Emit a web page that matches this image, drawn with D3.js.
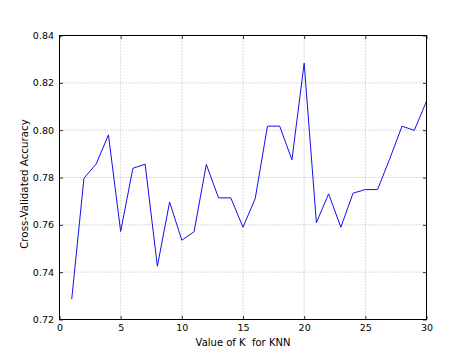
<!DOCTYPE html>
<html><head><meta charset="utf-8">
<script src="https://cdn.jsdelivr.net/npm/d3@7"></script>
<style>body{margin:0;background:#fff}svg{display:block}text{font-family:"DejaVu Sans",sans-serif;}</style>
</head><body>
<svg id="c" width="474" height="355"></svg>
<script>
const kValues = [1,2,3,4,5,6,7,8,9,10,11,12,13,14,15,16,17,18,19,20,21,22,23,24,25,26,27,28,29,30];
const accuracy = [0.7286,0.7797,0.7857,0.7980,0.7572,0.7839,0.7856,0.7425,0.7696,0.7535,
                  0.7571,0.7855,0.7714,0.7714,0.7590,0.7711,0.8017,0.8017,0.7875,0.8283,
                  0.7609,0.7731,0.7590,0.7734,0.7749,0.7749,0.7880,0.8017,0.7999,0.8122];
const xTicks = [0,5,10,15,20,25,30];
const yTicks = [0.72,0.74,0.76,0.78,0.80,0.82,0.84];
const xLabel = "Value of K  for KNN";
const yLabel = "Cross-Validated Accuracy";

const L=59.5, R=426.5, T=35.5, B=319.5;
const svg = d3.select("#c");
const x = d3.scaleLinear().domain([0,30]).range([L,R]);
const y = d3.scaleLinear().domain([0.72,0.84]).range([B,T]);

// grid
const g = svg.append("g");
g.selectAll(".gx").data(xTicks.slice(1,-1)).enter().append("line")
  .attr("x1",d=>x(d)).attr("x2",d=>x(d)).attr("y1",T).attr("y2",B)
  .attr("stroke","#888").attr("stroke-width",0.6).attr("stroke-dasharray","1,2");
g.selectAll(".gy").data(yTicks.slice(1,-1)).enter().append("line")
  .attr("y1",d=>y(d)).attr("y2",d=>y(d)).attr("x1",L).attr("x2",R)
  .attr("stroke","#888").attr("stroke-width",0.6).attr("stroke-dasharray","1,2");

// line
svg.append("path").datum(kValues.map((k,i)=>[k,accuracy[i]]))
  .attr("fill","none").attr("stroke","#1010ee").attr("stroke-width",1)
  .attr("d", d3.line().x(d=>x(d[0])).y(d=>y(d[1])));

// axes (ticks inward)
const fmtY = d3.format(".2f");
const ax = svg.append("g").attr("transform",`translate(0,${B})`)
  .call(d3.axisBottom(x).tickValues(xTicks).tickSizeInner(-3.5).tickSizeOuter(0).tickPadding(5));
const axT = svg.append("g").attr("transform",`translate(0,${T})`)
  .call(d3.axisTop(x).tickValues(xTicks).tickSizeInner(-3.5).tickSizeOuter(0).tickFormat(""));
const ay = svg.append("g").attr("transform",`translate(${L},0)`)
  .call(d3.axisLeft(y).tickValues(yTicks).tickFormat(fmtY).tickSizeInner(-3.5).tickSizeOuter(0).tickPadding(5.5));
const ayR = svg.append("g").attr("transform",`translate(${R},0)`)
  .call(d3.axisRight(y).tickValues(yTicks).tickSizeInner(-3.5).tickSizeOuter(0).tickFormat(""));
[ax,axT,ay,ayR].forEach(a=>{
  a.select(".domain").remove();
  a.selectAll("line").attr("stroke","#000").attr("stroke-width",0.8);
  a.selectAll("text").attr("fill","#000").style("font-size","9.5px").style("font-family","DejaVu Sans");
});
// frame
svg.append("rect").attr("x",L).attr("y",T).attr("width",R-L).attr("height",B-T)
  .attr("fill","none").attr("stroke","#000").attr("stroke-width",1);

svg.append("text").attr("x",(L+R)/2).attr("y",345.5).attr("text-anchor","middle")
  .style("font-size","10px").style("white-space","pre").attr("xml:space","preserve").text(xLabel);
svg.append("text").attr("transform",`translate(28,184) rotate(-90)`).attr("text-anchor","middle")
  .style("font-size","10.3px").text(yLabel);
</script>
</body></html>
